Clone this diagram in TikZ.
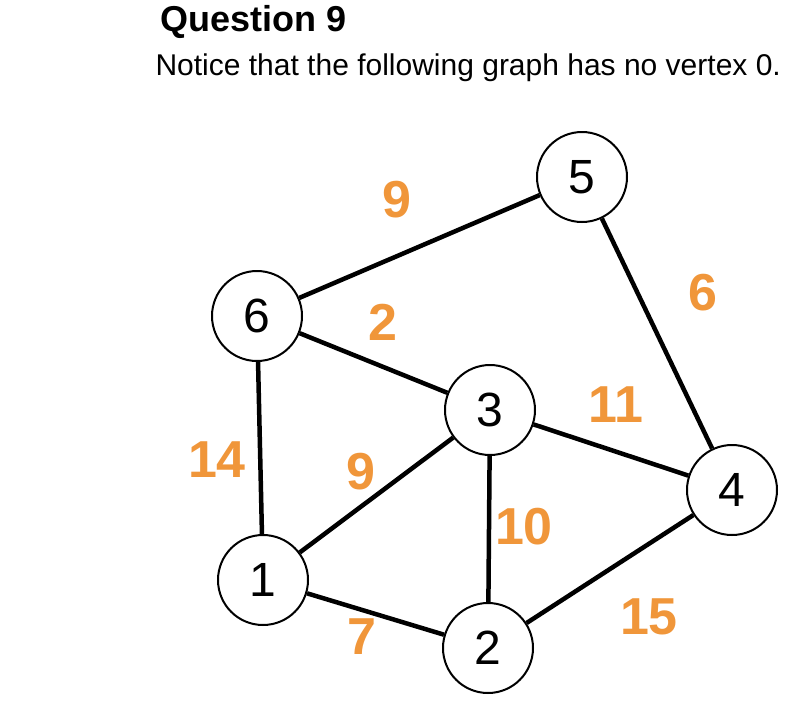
\documentclass[tikz,border=0pt]{standalone}
\usepackage{fontspec}
\setmainfont{Liberation Sans}
\begin{document}
\begin{tikzpicture}[x=1pt,y=-1pt,
  vert/.style={circle,draw,line width=2pt,minimum size=90pt,inner sep=0pt,font=\fontsize{48}{48}\selectfont},
  edge/.style={line width=4.5pt},
  wt/.style={text=wcol,font=\bfseries\fontsize{52}{52}\selectfont}]
\definecolor{wcol}{HTML}{F0963A}
\useasboundingbox (0,0) rectangle (804,716);
\node[anchor=west,font=\bfseries\fontsize{36}{36}\selectfont] (t) at (157,22) {Question 9};
\node[anchor=west,font=\fontsize{30}{30}\selectfont] (s) at (152,68) {Notice that the following graph has no vertex 0.};
\node[vert] (v5) at (582,177) {5};
\node[vert] (v6) at (257,316) {6};
\node[vert] (v3) at (490,410) {3};
\node[vert] (v4) at (732,490) {4};
\node[vert] (v1) at (263,580) {1};
\node[vert] (v2) at (488,648) {2};
\draw[edge] (v6)--(v5);
\draw[edge] (v5)--(v4);
\draw[edge] (v6)--(v3);
\draw[edge] (v3)--(v4);
\draw[edge] (v6)--(v1);
\draw[edge] (v1)--(v3);
\draw[edge] (v3)--(v2);
\draw[edge] (v1)--(v2);
\draw[edge] (v2)--(v4);
\node[wt] (w1) at (397,200) {9};
\node[wt] (w2) at (383,322) {2};
\node[wt] (w3) at (703,293) {6};
\node[wt] (w4) at (616,405) {11};
\node[wt] (w5) at (217,460) {14};
\node[wt] (w6) at (361,472) {9};
\node[wt] (w7) at (524,527) {10};
\node[wt] (w8) at (362,637) {7};
\node[wt] (w9) at (649,617) {15};
\end{tikzpicture}
\end{document}
